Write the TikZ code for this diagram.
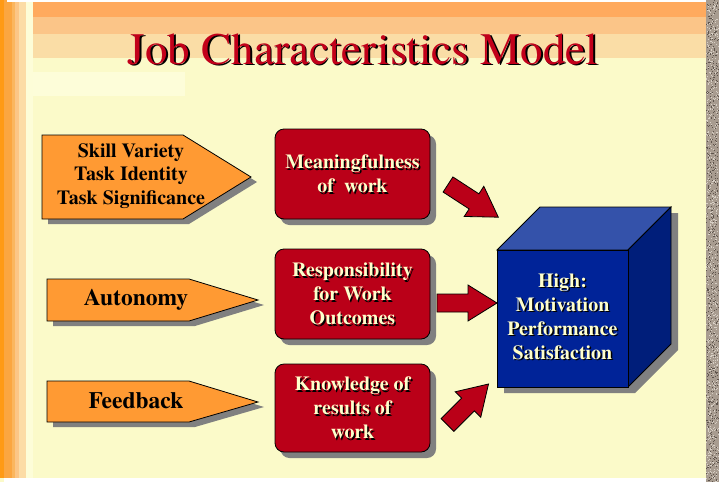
\documentclass[tikz,border=0pt]{standalone}
\usepackage{fontspec}
\setmainfont{TeX Gyre Termes}
\definecolor{bgyellow}{HTML}{FBFAC9}
\definecolor{paleyellow}{HTML}{FDFDD9}
\definecolor{stA}{HTML}{FF9A14}
\definecolor{stB}{HTML}{FBA640}
\definecolor{stC}{HTML}{FBB65E}
\definecolor{stD}{HTML}{FCC686}
\definecolor{stE}{HTML}{FCDCA6}
\definecolor{stF}{HTML}{FDFDD8}
\definecolor{bandA}{HTML}{FFAA5E}
\definecolor{bandB}{HTML}{FBC588}
\definecolor{bandC}{HTML}{FADDA6}
\definecolor{granite}{HTML}{A89C90}
\definecolor{granitedark}{HTML}{5E544C}
\definecolor{granitelight}{HTML}{D8D0C6}
\definecolor{titlered}{HTML}{C2001A}
\definecolor{boxred}{HTML}{BA0018}
\definecolor{cream}{HTML}{FFFFCC}
\definecolor{orangefill}{HTML}{FF9A33}
\definecolor{shadowgray}{HTML}{808080}
\definecolor{frontblue}{HTML}{002398}
\definecolor{topblue}{HTML}{3452AA}
\definecolor{sideblue}{HTML}{001E7A}
\tikzset{
  outline/.style={draw=black, line width=0.8pt},
  shadowfill/.style={fill=shadowgray},
  orangearrow/.style={outline, fill=orangefill},
  redbox/.style={outline, fill=boxred, rounded corners=9pt, minimum width=155pt, inner sep=0pt},
  boxtext/.style={text=cream, align=center, font=\fontsize{20}{24}\selectfont\bfseries},
  boxtextshadow/.style={boxtext, text=black},
  inputtext/.style={text=black, align=center, font=\fontsize{20}{23.5}\selectfont\bfseries},
  biginputtext/.style={text=black, align=center, font=\fontsize{23.5}{28}\selectfont\bfseries},
  blockarrow/.style={outline, fill=boxred},
  titlestyle/.style={anchor=base, font=\fontsize{45}{50}\selectfont}
}
\begin{document}
\begin{tikzpicture}[x=1pt,y=-1pt]
\useasboundingbox (0,0) rectangle (719,482);
% background
\fill[bgyellow] (0,0) rectangle (719,482);
\fill[stA] (0,0) rectangle (4,478);
\fill[stB] (4,0) rectangle (12,478);
\fill[stC] (12,0) rectangle (15,478);
\fill[stD] (15,0) rectangle (19,478);
\fill[stE] (19,0) rectangle (26,478);
\fill[stF] (26,0) rectangle (33,478);
\fill[white] (7,0) rectangle (706,1.7);
\fill[white] (4,478) rectangle (706,482);
\fill[bandA] (33,1.7) rectangle (706,16.7);
\fill[bandB] (33,16.7) rectangle (706,34);
\fill[bandC] (33,34) rectangle (706,57.7);
\fill[paleyellow] (33,72) rectangle (185,96);
% granite strip
\fill[granite] (706,0) rectangle (719,482);
\pgfmathsetseed{7}
\foreach \i in {1,...,700}{
  \pgfmathsetmacro\rx{706+12*rnd}
  \pgfmathsetmacro\ry{481*rnd}
  \fill[granitedark] (\rx,\ry) rectangle ++(1,1);
}
\foreach \i in {1,...,700}{
  \pgfmathsetmacro\rx{706+12*rnd}
  \pgfmathsetmacro\ry{481*rnd}
  \fill[granitelight] (\rx,\ry) rectangle ++(1,1);
}
% title
\node[titlestyle, text=black] (titleshadow) at (364.8,65.8) {Job Characteristics Model};
\node[titlestyle, text=titlered] (title) at (363,64) {Job Characteristics Model};
% orange input arrows
\fill[shadowgray, shift={(6,5)}] (42,135) -- (183,135) -- (251,177) -- (183,219) -- (42,219) -- cycle;
\draw[orangearrow] (42,135) -- (183,135) -- (251,177) -- (183,219) -- (42,219) -- cycle;
\node[inputtext] (skills) at (131,176) {Skill Variety\\Task Identity\\Task Significance};
\fill[shadowgray, shift={(6,5)}] (47,279) -- (189,279) -- (258,300) -- (189,321) -- (47,321) -- cycle;
\draw[orangearrow] (47,279) -- (189,279) -- (258,300) -- (189,321) -- (47,321) -- cycle;
\node[biginputtext] (autonomy) at (136,300) {Autonomy};
\fill[shadowgray, shift={(6,5)}] (47,381) -- (189,381) -- (258,402) -- (189,422) -- (47,422) -- cycle;
\draw[orangearrow] (47,381) -- (189,381) -- (258,402) -- (189,422) -- (47,422) -- cycle;
\node[biginputtext] (feedback) at (136,401) {Feedback};
% red state boxes
\foreach \cy/\h in {174/90, 294/90, 408/88}{
  \fill[shadowgray, rounded corners=9pt] (280.5,\cy-\h/2+6) rectangle (436,\cy+\h/2+6);
}
\node[redbox, minimum height=90pt] (mean) at (352.5,174) {};
\node[redbox, minimum height=90pt] (resp) at (352.5,294) {};
\node[redbox, minimum height=88pt] (know) at (352.5,408) {};
\node[boxtextshadow] at ([shift={(1.4,1.4)}]mean.center) {Meaningfulness\\of\ \ work};
\node[boxtext] (meantext) at (mean.center) {Meaningfulness\\of\ \ work};
\node[boxtextshadow] at ([shift={(1.4,1.4)}]resp.center) {Responsibility\\for Work\\Outcomes};
\node[boxtext] (resptext) at (resp.center) {Responsibility\\for Work\\Outcomes};
\node[boxtextshadow] at ([shift={(1.4,1.4)}]know.center) {Knowledge of\\results of\\work};
\node[boxtext] (knowtext) at (know.center) {Knowledge of\\results of\\work};
% cube
\fill[shadowgray, shift={(7,6)}] (497,250) -- (540,207) -- (671,207) -- (671,344) -- (628,387) -- (497,387) -- cycle;
\draw[outline, fill=topblue] (497,250) -- (540,207) -- (671,207) -- (628,250) -- cycle;
\draw[outline, fill=sideblue] (628,250) -- (671,207) -- (671,344) -- (628,387) -- cycle;
\node[outline, fill=frontblue, minimum width=131pt, minimum height=137pt, inner sep=0pt] (cube) at (562.5,318.5) {};
\node[boxtextshadow] at ([shift={(1.4,-0.6)}]cube.center) {High:\\Motivation\\Performance\\Satisfaction};
\node[boxtext] (cubetext) at ([yshift=2pt]cube.center) {High:\\Motivation\\Performance\\Satisfaction};
% block arrows
\coordinate (tailA) at (448,184.5);
\coordinate (tailB) at (437,303);
\coordinate (tailC) at (447.5,425);
\draw[blockarrow, shift={(tailA)}, rotate=-33] (0,-9) -- (31,-9) -- (31,-18) -- (60,0) -- (31,18) -- (31,9) -- (0,9) -- cycle;
\draw[blockarrow, shift={(tailB)}] (0,-9) -- (31,-9) -- (31,-18) -- (60,0) -- (31,18) -- (31,9) -- (0,9) -- cycle;
\draw[blockarrow, shift={(tailC)}, rotate=45] (0,-9) -- (29,-9) -- (29,-18) -- (58,0) -- (29,18) -- (29,9) -- (0,9) -- cycle;
\end{tikzpicture}
\end{document}
